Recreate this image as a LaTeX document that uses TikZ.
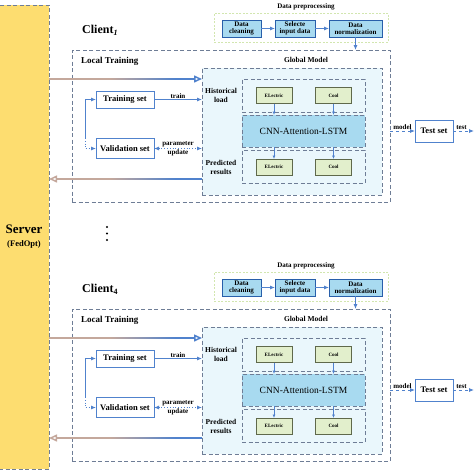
\documentclass[tikz,border=0pt]{standalone}
\usepackage{fontspec}
\setmainfont{Liberation Serif}
\usetikzlibrary{arrows.meta}
\definecolor{srvY}{RGB}{253,221,112}
\definecolor{lineB}{RGB}{80,130,205}
\definecolor{tanC}{RGB}{196,168,156}
\definecolor{dashG}{RGB}{110,125,150}
\definecolor{cyanL}{RGB}{234,247,252}
\definecolor{boxB}{RGB}{168,218,240}
\definecolor{edgeB}{RGB}{40,95,170}
\definecolor{greenF}{RGB}{226,239,204}
\definecolor{greenE}{RGB}{95,105,75}
\definecolor{prepE}{RGB}{210,230,175}
\tikzset{
 container/.style={draw=dashG, line width=0.8pt, dash pattern=on 4pt off 2.5pt, inner sep=0pt, outer sep=0pt, anchor=north west},
 databox/.style={draw=edgeB, fill=boxB, line width=1pt, align=center, font=\fontsize{7}{7.5}\selectfont\bfseries, inner sep=0pt, outer sep=0pt},
 setbox/.style={draw=lineB, fill=white, line width=0.6pt, font=\fontsize{8.5}{10}\selectfont\bfseries, inner sep=0pt, outer sep=0pt},
 smallbox/.style={draw=greenE, fill=greenF, line width=0.6pt, font=\fontsize{5}{6}\selectfont\bfseries, minimum width=36pt, minimum height=16pt, inner sep=0pt, outer sep=0pt},
 arr/.style={draw=lineB, line width=0.8pt, -{Latex[length=5pt,width=4pt]}},
 arrs/.style={draw=lineB, line width=0.7pt, -{Latex[length=3.5pt,width=3pt]}},
 lbl/.style={font=\fontsize{7}{8}\selectfont\bfseries, inner sep=1pt, text=black},
 sidelbl/.style={font=\fontsize{7.5}{9}\selectfont\bfseries, align=center, inner sep=0pt},
 sarr/.style={draw=lineB, line width=1.5pt},
}
\begin{document}
\begin{tikzpicture}[x=1pt,y=-1pt]
\useasboundingbox (0,0) rectangle (474,474);
\node[fill=srvY, draw=dashG, line width=0.8pt, dash pattern=on 4pt off 2.5pt, minimum width=50pt, minimum height=464pt, inner sep=0pt, outer sep=0pt, align=center] (server) at (24,237)
 {{\fontsize{13}{14}\selectfont\bfseries Server}\\[1pt]{\fontsize{8.5}{10}\selectfont\bfseries (FedOpt)}};
\fill (107,227) circle (1.1);
\fill (107,233.5) circle (1.1);
\fill (107,240) circle (1.1);
\foreach \o/\s/\sub in {0/a/{\textit{1}}, 259/b/{4}} {
\begin{scope}[yshift=-\o pt]
\node[font=\fontsize{12}{14}\selectfont\bfseries, anchor=west, inner sep=0pt] (client\s) at (82,30) {Client\textsubscript{\sub}};
\node[font=\fontsize{7}{8}\selectfont\bfseries] (prept\s) at (306,7) {Data preprocessing};
\node[draw=prepE, line width=0.8pt, dash pattern=on 2pt off 1.5pt, minimum width=174pt, minimum height=29pt, anchor=north west, inner sep=0pt] (prep\s) at (214,13) {};
\node[databox, minimum width=39pt, minimum height=17pt] (dc\s) at (241.5,28.5) {Data\\cleaning};
\node[databox, minimum width=40pt, minimum height=17pt] (si\s) at (295,28.5) {Selecte\\input data};
\node[databox, minimum width=53pt, minimum height=17pt] (dn\s) at (355.5,28.5) {Data\\normalization};
\node[container, minimum width=318pt, minimum height=152pt] (lt\s) at (72,50) {};
\node[font=\fontsize{9}{10}\selectfont\bfseries, anchor=west, inner sep=0pt] (ltt\s) at (81,61) {Local Training};
\node[font=\fontsize{7.5}{9}\selectfont\bfseries] (gmt\s) at (306,60) {Global Model};
\node[container, fill=cyanL, minimum width=180pt, minimum height=127pt] (gm\s) at (202,68) {};
\node[container, minimum width=123pt, minimum height=33pt] (up\s) at (242,79) {};
\node[smallbox] (e1\s) at (274,95.5) {ELectric};
\node[smallbox] (c1\s) at (333.5,95.5) {Cool};
\node[container, fill=boxB, minimum width=123pt, minimum height=32pt, font=\fontsize{9.5}{11}\selectfont] (cnn\s) at (242,115) {CNN-Attention-LSTM};
\node[container, minimum width=123pt, minimum height=33pt] (lo\s) at (242,150) {};
\node[smallbox] (e2\s) at (274,167) {ELectric};
\node[smallbox] (c2\s) at (333.5,167) {Cool};
\node[sidelbl] (hl\s) at (221,95) {Historical\\load};
\node[sidelbl] (pr\s) at (221,167) {Predicted\\results};
\node[setbox, minimum width=58pt, minimum height=17pt] (ts\s) at (125,99.5) {Training set};
\node[setbox, minimum width=58pt, minimum height=20pt] (vs\s) at (125,148.5) {Validation set};
\node[setbox, minimum width=38pt, minimum height=22pt] (test\s) at (434,131) {Test set};
\coordinate (bk\s) at (85,138);
\coordinate (fb\s) at (202,179);
\coordinate (out\s) at (474,131);
\draw[arr] (dc\s) -- (si\s);
\draw[arr] (si\s) -- (dn\s);
\draw[arr] (dn\s.south) -- (dn\s.south |- lt\s.north);
\draw[arr] (ts\s.east) -- (ts\s.east -| gm\s.west) node[midway, above, lbl] {train};
\draw[lineB, line width=0.8pt, dotted, {Latex[length=5pt,width=4pt]}-{Latex[length=5pt,width=4pt]}] (vs\s.east) -- (vs\s.east -| gm\s.west)
  node[midway, above, lbl] {parameter} node[midway, below, lbl] {update};
\draw[arr] (bk\s) -- (bk\s |- ts\s.west) -- (ts\s.west);
\draw[arr, dotted] (bk\s) -- (bk\s |- vs\s.west) -- (vs\s.west);
\draw[arrs] (e1\s.south) -- (e1\s.south |- cnn\s.north);
\draw[arrs] (c1\s.south) -- (c1\s.south |- cnn\s.north);
\draw[arrs] (e2\s.north |- cnn\s.south) -- (e2\s.north);
\draw[arrs] (c2\s.north |- cnn\s.south) -- (c2\s.north);
\draw[arr, dashed] (lt\s.east |- test\s.west) -- (test\s.west) node[midway, above, lbl] {model};
\draw[arr, dashed] (test\s.east) -- (out\s) node[midway, above, lbl, xshift=-2pt] {test};
\draw[sarr, -{Triangle[open, length=8pt, width=7pt]}] (server.east |- up\s.north) -- (gm\s.west |- up\s.north);
\shade[left color=tanC, right color=tanC] (49,78.25) rectangle (110,79.75);
\shade[left color=tanC, right color=lineB] (110,78.25) rectangle (175,79.75);
\draw[sarr, -{Triangle[open, length=8pt, width=7pt, color=tanC]}] (fb\s) -- (fb\s -| server.east);
\shade[left color=tanC, right color=tanC] (57,178.25) rectangle (110,179.75);
\shade[left color=tanC, right color=lineB] (110,178.25) rectangle (175,179.75);
\end{scope}
}
\end{tikzpicture}
\end{document}
